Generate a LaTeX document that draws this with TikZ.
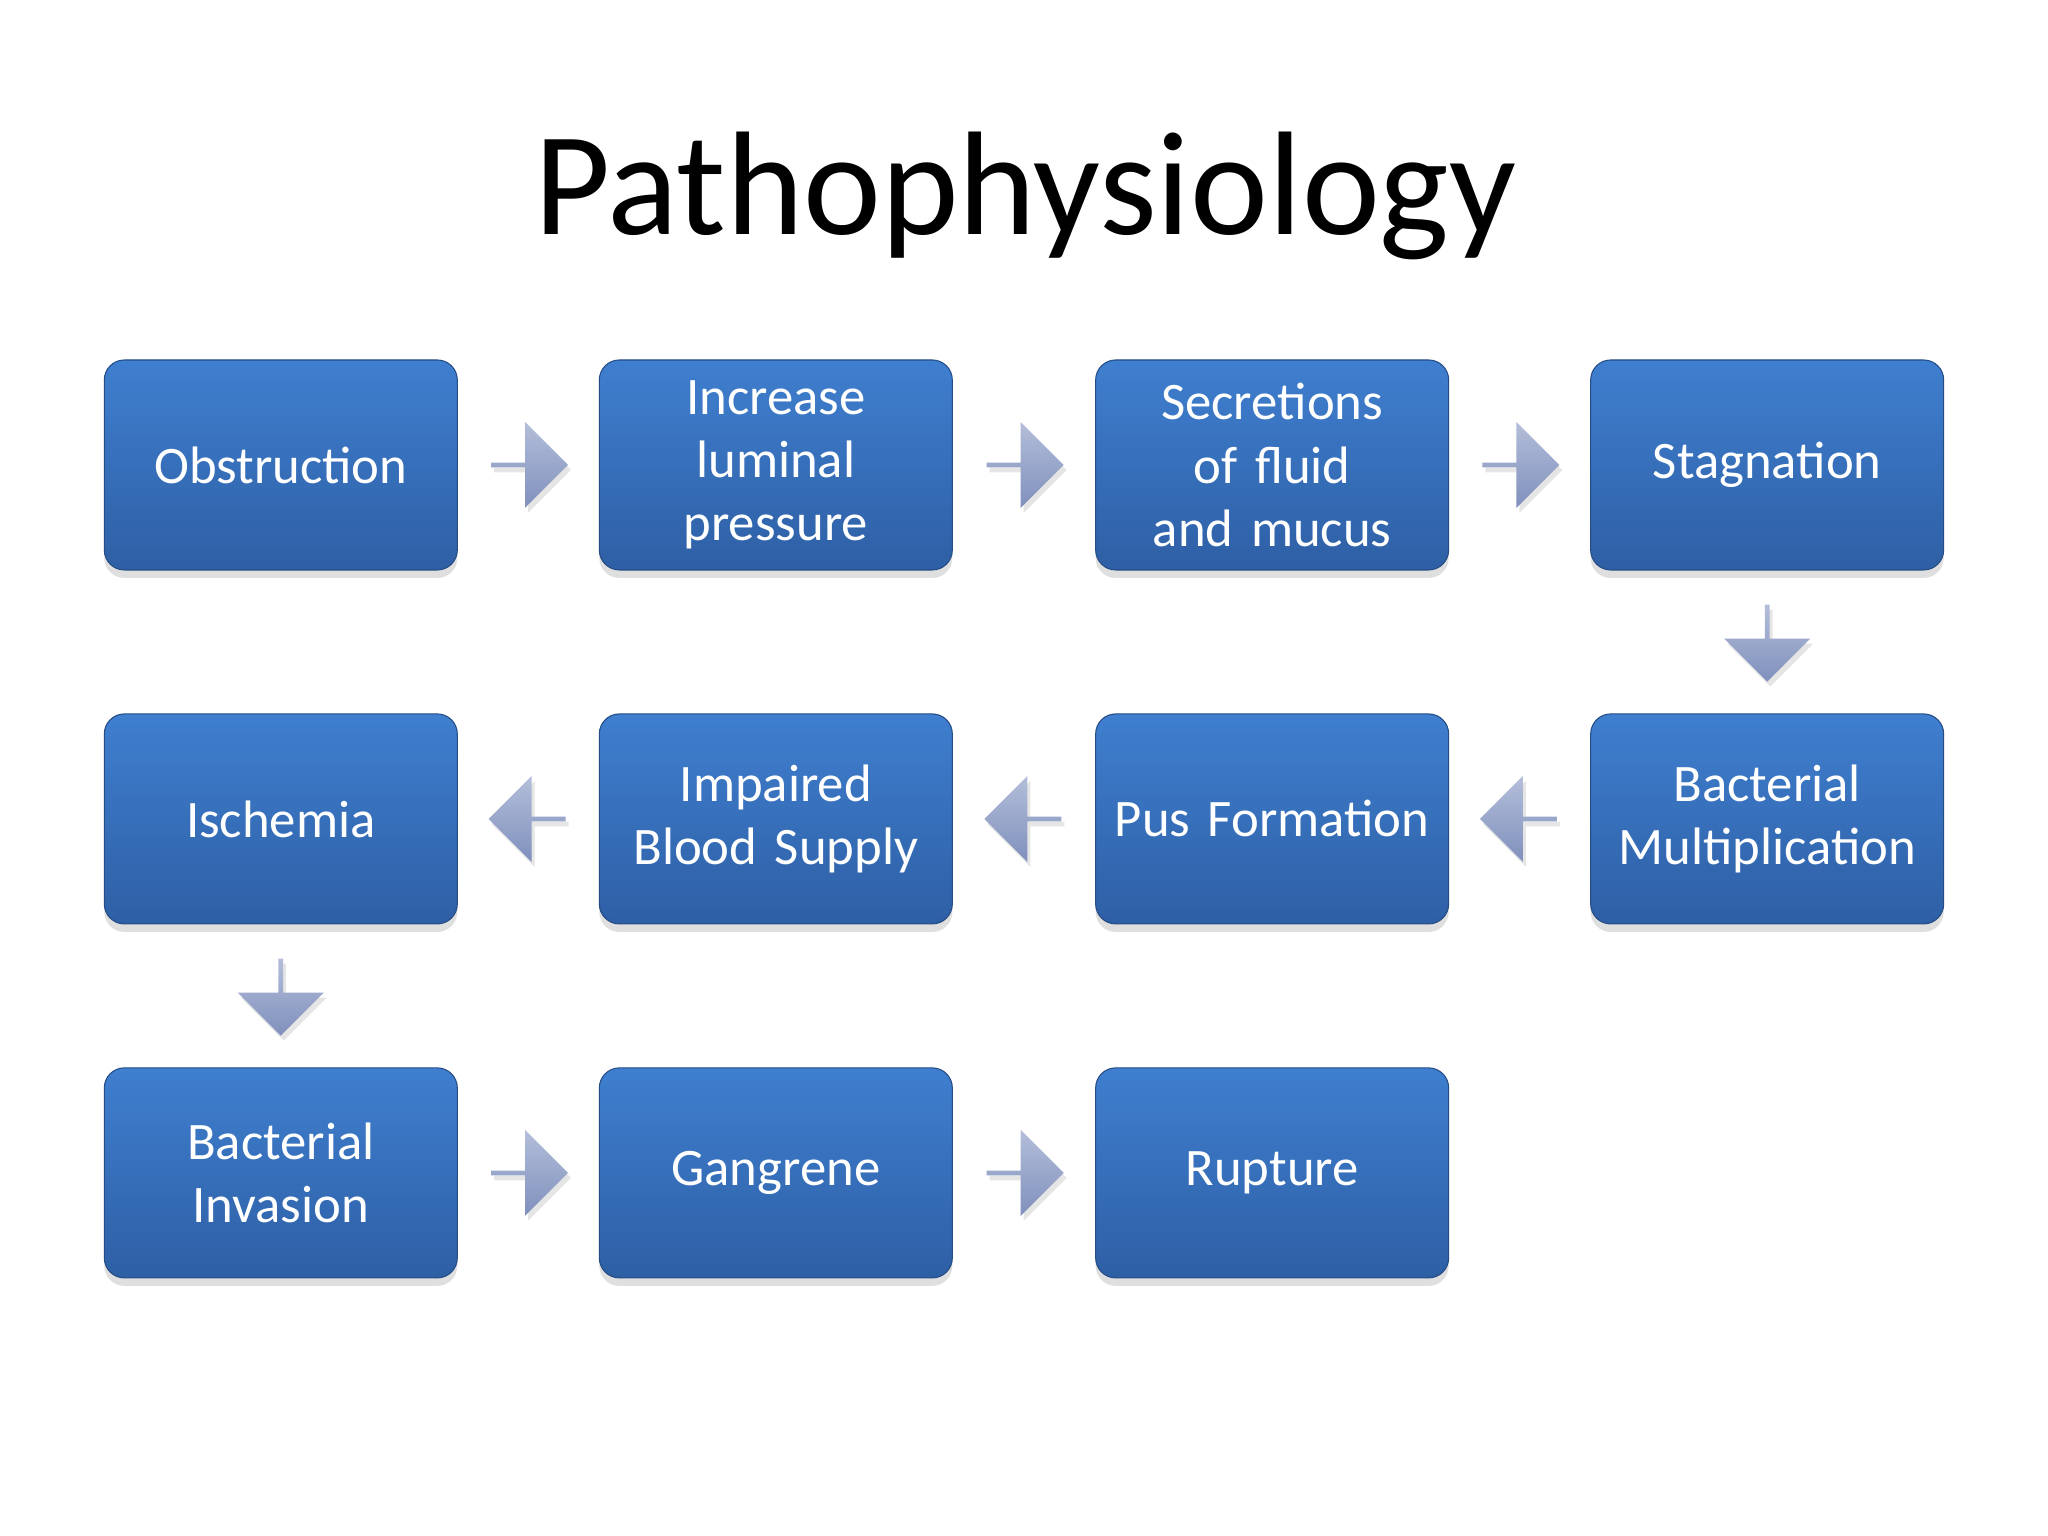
\documentclass[tikz,border=0pt]{standalone}
\usepackage{fontspec}
\setmainfont{Carlito}
\usetikzlibrary{shapes.arrows,shadows,calc}
\definecolor{btop}{HTML}{3F7FCF}
\definecolor{bbot}{HTML}{2E5FA5}
\definecolor{atop}{HTML}{B4BEDA}
\definecolor{abot}{HTML}{7F90BC}
\tikzset{
 box/.style={rounded corners=0.2cm, minimum width=3.53cm, minimum height=2.1cm, text width=3.2cm, align=center,
   top color=btop, bottom color=bbot, draw=bbot!80!black, line width=0.3pt, text=white, font=\fontsize{15}{18}\selectfont,
   drop shadow={shadow xshift=0pt, shadow yshift=-0.08cm, opacity=0.25}},
 barrow/.style={single arrow, single arrow head extend=0.12cm, minimum width=0.86cm, minimum height=0.77cm, inner sep=0pt,
   shading=axis, top color=atop, bottom color=abot, shading angle=#1, draw=none,
   drop shadow={shadow xshift=0.03cm, shadow yshift=-0.05cm, opacity=0.2}}
}
\begin{document}
\begin{tikzpicture}[x=0.01306cm,y=-0.01306cm]
\useasboundingbox[fill=white] (0,0) rectangle (1568,1176);
\node[font=\fontsize{42}{48}\selectfont] (title) at (785,150) {Pathophysiology};
\node[box] (b1) at (215,356) {Obstruction};
\node[box] (b2) at (594,356) {Increase luminal pressure};
\node[box] (b3) at (974,356) {Secretions of fluid and mucus};
\node[box] (b4) at (1353,356) {Stagnation};
\node[box] (b5) at (1353,627) {Bacterial Multiplication};
\node[box] (b6) at (974,627) {Pus Formation};
\node[box] (b7) at (594,627) {Impaired Blood Supply};
\node[box] (b8) at (215,627) {Ischemia};
\node[box] (b9) at (215,898) {Bacterial Invasion};
\node[box] (b10) at (594,898) {Gangrene};
\node[box] (b11) at (974,898) {Rupture};
\node[barrow=0] (a1) at ($(b1)!0.5!(b2)$) {};
\node[barrow=0] (a2) at ($(b2)!0.5!(b3)$) {};
\node[barrow=0] (a3) at ($(b3)!0.5!(b4)$) {};
\node[barrow=0, shape border rotate=270] (a4) at ($(b4)!0.5!(b5)$) {};
\node[barrow=0, shape border rotate=180] (a5) at ($(b5)!0.5!(b6)$) {};
\node[barrow=0, shape border rotate=180] (a6) at ($(b6)!0.5!(b7)$) {};
\node[barrow=0, shape border rotate=180] (a7) at ($(b7)!0.5!(b8)$) {};
\node[barrow=0, shape border rotate=270] (a8) at ($(b8)!0.5!(b9)$) {};
\node[barrow=0] (a9) at ($(b9)!0.5!(b10)$) {};
\node[barrow=0] (a10) at ($(b10)!0.5!(b11)$) {};
\end{tikzpicture}
\end{document}
